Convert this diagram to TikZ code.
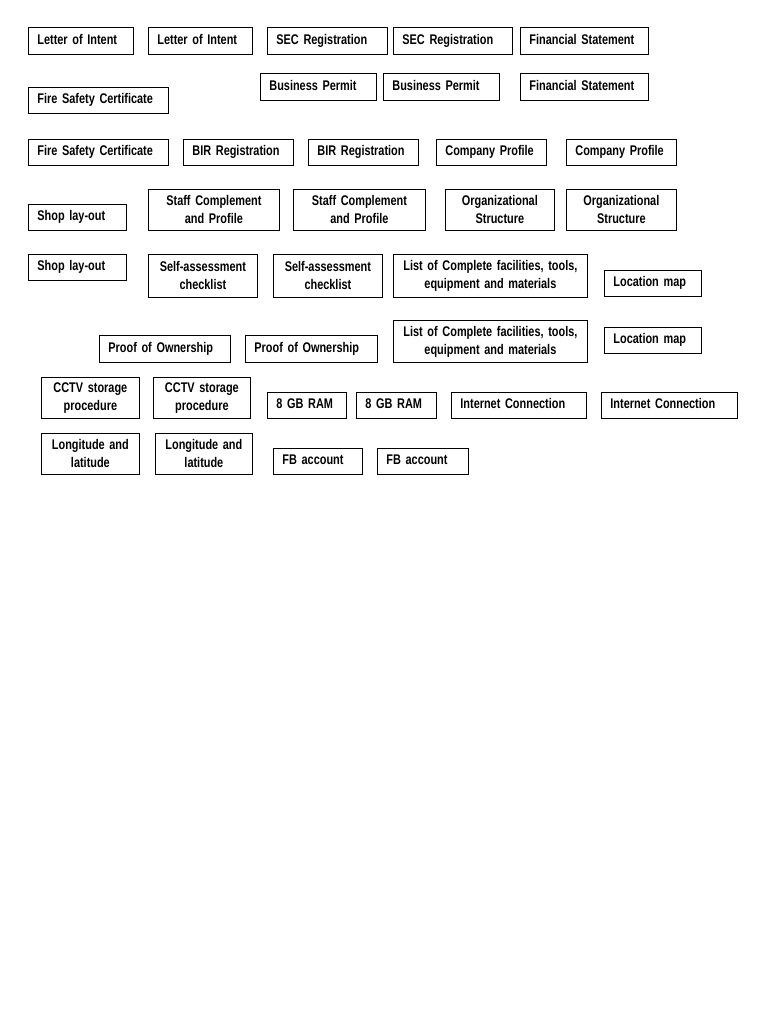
\documentclass[tikz,border=0pt]{standalone}
\usepackage{fontspec}
\newfontfamily\narrowsans{Liberation Sans}[FakeStretch=0.78]
\usepackage{xcolor}
\newcommand\cellfont{\narrowsans\bfseries\fontsize{14}{18}\selectfont}

\tikzset{
    cell/.style={draw, line width=0.8pt, anchor=north west, inner xsep=9pt, inner ysep=0pt,
        align=left, text height=10pt, text depth=3pt, font=\cellfont},
    cellb/.style={cell, inner xsep=2pt, align=center, text height=, text depth=}
}

\begin{document}
\begin{tikzpicture}[x=1pt, y=-1pt]
    \useasboundingbox (0,0) rectangle (768,1024);

    \node[cell, text width=87pt, minimum height=27] (intent1) at (28,27) {Letter of Intent};
    \node[cell, text width=86pt, minimum height=27] (intent2) at (148,27) {Letter of Intent};
    \node[cell, text width=102pt, minimum height=27] (sec1) at (267,27) {SEC Registration};
    \node[cell, text width=101pt, minimum height=27] (sec2) at (393,27) {SEC Registration};
    \node[cell, text width=110pt, minimum height=27] (finance1) at (520,27) {Financial Statement};

    \node[cell, text width=122pt, minimum height=26] (fire1) at (28,87) {Fire Safety Certificate};
    \node[cell, text width=98pt, minimum height=27] (permit1) at (260,73) {Business Permit};
    \node[cell, text width=98pt, minimum height=27] (permit2) at (383,73) {Business Permit};
    \node[cell, text width=110pt, minimum height=27] (finance2) at (520,73) {Financial Statement};

    \node[cell, text width=122pt, minimum height=26] (fire2) at (28,139) {Fire Safety Certificate};
    \node[cell, text width=92pt, minimum height=26] (bir1) at (183,139) {BIR Registration};
    \node[cell, text width=92pt, minimum height=26] (bir2) at (308,139) {BIR Registration};
    \node[cell, text width=92pt, minimum height=26] (profile1) at (436,139) {Company Profile};
    \node[cell, text width=92pt, minimum height=26] (profile2) at (566,139) {Company Profile};

    \node[cell, text width=80pt, minimum height=26] (layout1) at (28,204) {Shop lay-out};
    \node[cellb, text width=127pt, minimum height=41] (staff1) at (148,189) {Staff Complement\\and Profile};
    \node[cellb, text width=128pt, minimum height=41] (staff2) at (293,189) {Staff Complement\\and Profile};
    \node[cellb, text width=105pt, minimum height=41] (org1) at (445,189) {Organizational\\Structure};
    \node[cellb, text width=106pt, minimum height=41] (org2) at (566,189) {Organizational\\Structure};

    \node[cell, text width=80pt, minimum height=26] (layout2) at (28,254) {Shop lay-out};
    \node[cellb, text width=105pt, minimum height=43] (check1) at (148,254) {Self-assessment\\checklist};
    \node[cellb, text width=105pt, minimum height=43] (check2) at (273,254) {Self-assessment\\checklist};
    \node[cellb, text width=190pt, minimum height=43] (list1) at (393,254) {List of Complete facilities, tools,\\equipment and materials};
    \node[cell, text width=79pt, minimum height=26] (map1) at (604,270) {Location map};

    \node[cell, text width=113pt, minimum height=27] (owner1) at (99,335) {Proof of Ownership};
    \node[cell, text width=114pt, minimum height=27] (owner2) at (245,335) {Proof of Ownership};
    \node[cellb, text width=190pt, minimum height=42] (list2) at (393,320) {List of Complete facilities, tools,\\equipment and materials};
    \node[cell, text width=79pt, minimum height=26] (map2) at (604,327) {Location map};

    \node[cellb, text width=94pt, minimum height=41] (cctv1) at (41,377) {CCTV storage\\procedure};
    \node[cellb, text width=93pt, minimum height=41] (cctv2) at (153,377) {CCTV storage\\procedure};
    \node[cell, text width=61pt, minimum height=26] (ram1) at (267,392) {8 GB RAM};
    \node[cell, text width=62pt, minimum height=26] (ram2) at (356,392) {8 GB RAM};
    \node[cell, text width=117pt, minimum height=26] (net1) at (451,392) {Internet Connection};
    \node[cell, text width=118pt, minimum height=26] (net2) at (601,392) {Internet Connection};

    \node[cellb, text width=94pt, minimum height=41] (geo1) at (41,433) {Longitude and\\latitude};
    \node[cellb, text width=93pt, minimum height=41] (geo2) at (155,433) {Longitude and\\latitude};
    \node[cell, text width=71pt, minimum height=26] (fb1) at (273,448) {FB account};
    \node[cell, text width=73pt, minimum height=26] (fb2) at (377,448) {FB account};
\end{tikzpicture}
\end{document}
